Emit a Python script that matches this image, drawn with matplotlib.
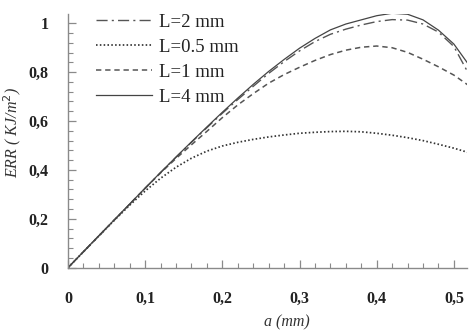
#!/usr/bin/env python3
"""ERR versus crack length a for several L values."""

import matplotlib

matplotlib.use("Agg")
import matplotlib.pyplot as plt
from matplotlib.ticker import FuncFormatter, MultipleLocator


A_GRID = [0.0, 0.02, 0.04, 0.06, 0.08, 0.10, 0.12, 0.14, 0.16, 0.18, 0.20, 0.22, 0.24,
          0.26, 0.28, 0.30, 0.32, 0.34, 0.36, 0.38, 0.40, 0.42, 0.44, 0.46, 0.48, 0.50, 0.518]

ERR_L2 = [0.0, 0.065, 0.130, 0.195, 0.260, 0.325, 0.389, 0.452, 0.513, 0.573, 0.632, 0.688,
          0.742, 0.795, 0.843, 0.887, 0.925, 0.955, 0.976, 0.993, 1.007, 1.015, 1.013, 0.997,
          0.964, 0.905, 0.800]
ERR_L05 = [0.0, 0.065, 0.130, 0.194, 0.256, 0.314, 0.366, 0.411, 0.448, 0.477, 0.498, 0.513,
           0.525, 0.535, 0.543, 0.550, 0.554, 0.557, 0.558, 0.556, 0.550, 0.542, 0.532, 0.520,
           0.505, 0.489, 0.472]
ERR_L1 = [0.0, 0.065, 0.130, 0.195, 0.260, 0.325, 0.388, 0.447, 0.503, 0.558, 0.614, 0.666,
          0.712, 0.755, 0.790, 0.820, 0.848, 0.872, 0.890, 0.902, 0.907, 0.900, 0.881, 0.853,
          0.822, 0.788, 0.748]
ERR_L4 = [0.0, 0.066, 0.131, 0.196, 0.261, 0.326, 0.390, 0.453, 0.515, 0.576, 0.636, 0.694,
          0.750, 0.803, 0.852, 0.898, 0.938, 0.973, 0.997, 1.014, 1.031, 1.041, 1.037, 1.014,
          0.972, 0.915, 0.836]

LABELS = ["L=2 mm", "L=0.5 mm", "L=1 mm", "L=4 mm"]

SERIF = ["Liberation Serif", "DejaVu Serif"]


def comma_fmt(v, _pos):
    if abs(v) < 1e-9:
        return "0"
    if abs(v - round(v)) < 1e-9:
        return f"{int(round(v))}"
    return f"{v:.1f}".replace(".", ",")


def main():
    plt.rcParams["font.family"] = SERIF
    fig = plt.figure(figsize=(4.74, 3.32), dpi=100)
    ax = fig.add_axes([68 / 474, 1 - 267.7 / 332, (467 - 68) / 474, (267.7 - 14) / 332])

    ax.plot(A_GRID, ERR_L2, color="#555555", lw=1.0, linestyle=(0, (8, 3, 1.5, 3)), label=LABELS[0])
    ax.plot(A_GRID, ERR_L05, color="#333333", lw=1.25, linestyle=(0, (0.9, 1.3)), label=LABELS[1])
    ax.plot(A_GRID, ERR_L1, color="#555555", lw=1.1, linestyle=(0, (3.5, 2.5)), label=LABELS[2])
    ax.plot(A_GRID, ERR_L4, color="#444444", lw=0.9, linestyle="-", label=LABELS[3])

    ax.set_xlim(0, 0.517)
    ax.set_ylim(0, 1.038)
    ax.xaxis.set_major_locator(MultipleLocator(0.1))
    ax.xaxis.set_minor_locator(MultipleLocator(0.02))
    ax.yaxis.set_major_locator(MultipleLocator(0.2))
    ax.yaxis.set_minor_locator(MultipleLocator(0.04))
    ax.xaxis.set_major_formatter(FuncFormatter(comma_fmt))
    ax.yaxis.set_major_formatter(FuncFormatter(comma_fmt))

    for side in ["top", "right"]:
        ax.spines[side].set_visible(False)
    for side in ["left", "bottom"]:
        ax.spines[side].set_color("#8a8a8a")
        ax.spines[side].set_linewidth(1.0)

    ax.tick_params(which="major", direction="in", length=6, width=0.9, color="#8a8a8a")
    ax.tick_params(which="minor", direction="in", length=3.5, width=0.8, color="#8a8a8a")
    ax.tick_params(axis="x", which="major", pad=17, labelsize=11.5)
    ax.tick_params(axis="y", which="major", pad=14, labelsize=11.5)
    for lbl in ax.get_xticklabels() + ax.get_yticklabels():
        lbl.set_fontweight("bold")
        lbl.set_color("#222222")

    fig.text(287 / 474, 1 - 322 / 332, "a (mm)", ha="center", va="center",
             fontsize=11.5, style="italic", color="#333333")
    fig.text(12 / 474, 1 - 132 / 332, "ERR ( KJ/m$^2$)", ha="center", va="center",
             rotation=90, fontsize=11.5, style="italic", color="#333333")

    leg = ax.legend(loc="upper left", bbox_to_anchor=(96 / 474, 1 - 13.5 / 332),
                    bbox_transform=fig.transFigure, frameon=False, fontsize=13.5,
                    handlelength=3.0, handletextpad=0.37, labelspacing=0.42,
                    borderpad=0.0, borderaxespad=0.0)
    for txt in leg.get_texts():
        txt.set_color("#222222")

    fig.savefig("out.png", dpi=100)
    plt.close(fig)


if __name__ == "__main__":
    main()
